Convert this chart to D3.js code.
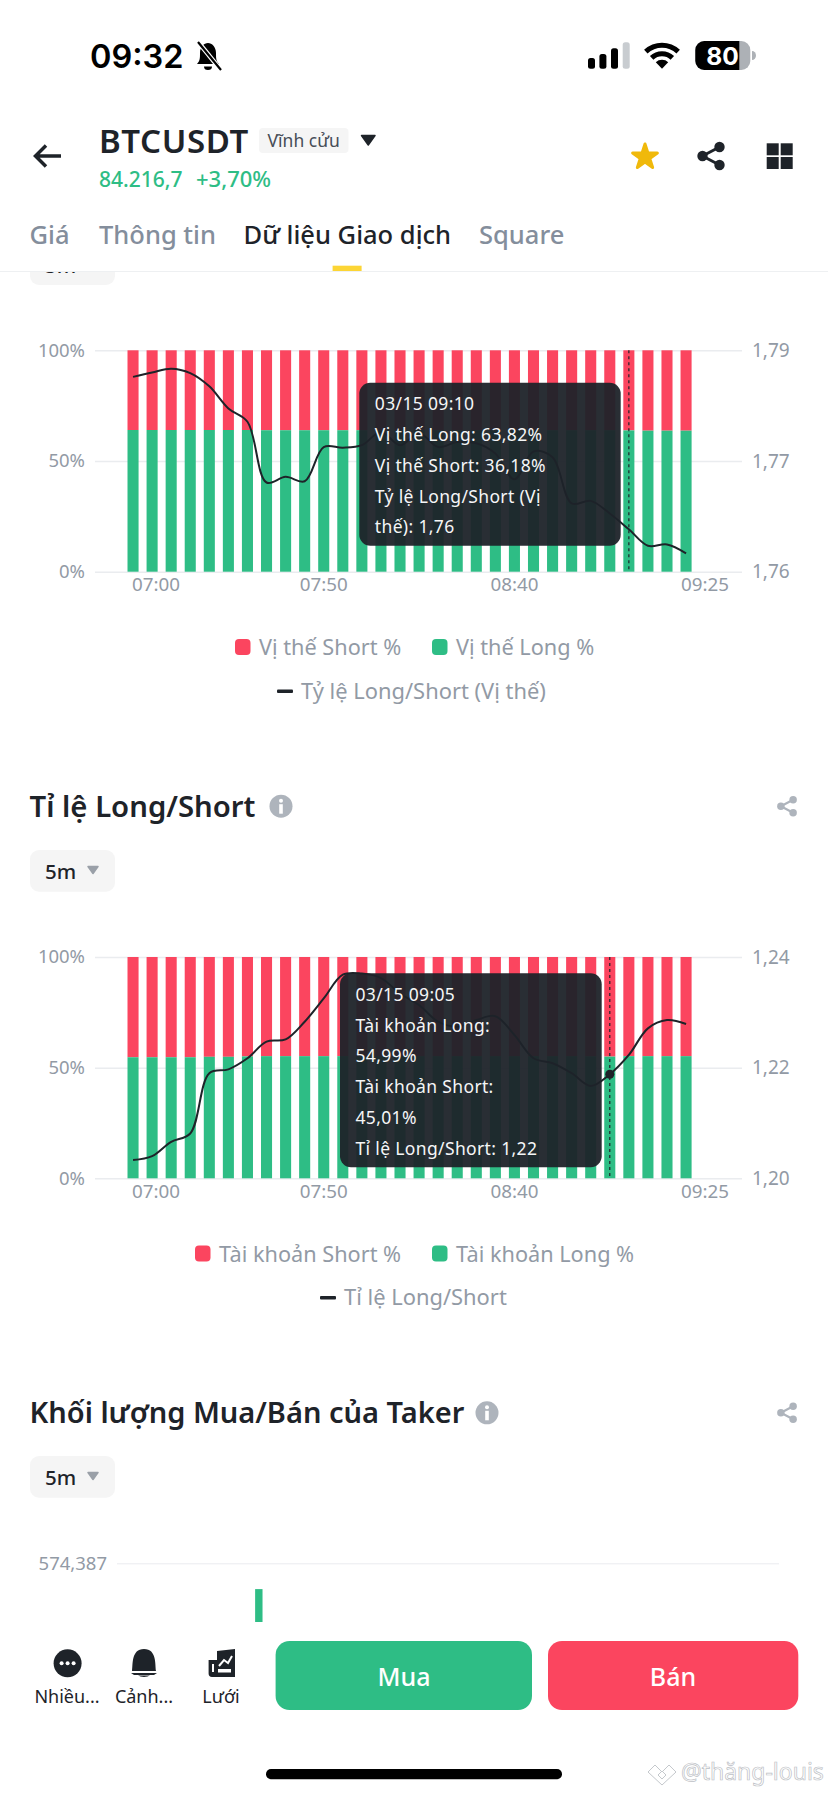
<!DOCTYPE html>
<html lang="vi">
<head>
<meta charset="utf-8">
<title>BTCUSDT</title>
<script src="https://cdn.jsdelivr.net/npm/d3@7"></script>
<style>
  html, body { margin: 0; padding: 0; background: #fff; }
  svg { display: block; }
  text { font-family: "Noto Sans", sans-serif; }
</style>
</head>
<body>
<div id="root"></div>
<script>
// --- data ---
const times = ['07:00','07:05','07:10','07:15','07:20','07:25','07:30','07:35','07:40','07:45',
  '07:50','07:55','08:00','08:05','08:10','08:15','08:20','08:25','08:30','08:35',
  '08:40','08:45','08:50','08:55','09:00','09:05','09:10','09:15','09:20','09:25'];
const timeTicks = ['07:00', '07:50', '08:40', '09:25'];
const pctTicks = [0, 50, 100];

const positionLong = [64.0,64.0,64.0,64.0,64.0,64.0,64.0,63.9,63.9,63.9,
  63.9,63.9,63.9,63.9,63.9,63.9,63.9,63.9,63.9,63.9,
  63.9,63.9,63.9,63.9,63.9,63.9,63.82,63.7,63.7,63.7];
const positionRatio = [1.7858,1.7865,1.7871,1.7864,1.7843,1.7808,1.7787,1.7691,1.7700,1.7693,
  1.7747,1.7746,1.7750,1.7771,1.7750,1.7769,1.7747,1.7755,1.7753,1.7737,
  1.7696,1.7740,1.7731,1.7658,1.7662,1.7642,1.7617,1.7591,1.7593,1.7579];
const positionRatioTicks = [1.755, 1.7725, 1.79];
const positionRatioLabels = ['1,76', '1,77', '1,79'];

const accountLong = [54.7,54.7,54.7,54.7,54.9,54.9,55.1,55.2,55.2,55.2,
  55.2,55.2,55.2,55.2,55.2,55.2,55.2,55.2,55.2,55.2,
  55.2,55.2,55.2,55.2,55.1,54.99,55.2,55.2,55.2,55.2];
const accountRatio = [1.2033,1.2040,1.2066,1.2081,1.2190,1.2197,1.2217,1.2247,1.2251,1.2283,
  1.2325,1.2368,1.2370,1.2362,1.2334,1.2313,1.2283,1.2274,1.2286,1.2293,
  1.2259,1.2217,1.2208,1.2190,1.2167,1.2188,1.2223,1.2271,1.2286,1.2279];
const accountRatioTicks = [1.20, 1.22, 1.24];
const accountRatioLabels = ['1,20', '1,22', '1,24'];

const takerTimes = ['07:35'];
const takerBuy = [509000];
const takerTicks = [574387];

const GREEN = '#2ebd85';
const RED = '#fb455f';
const INK = '#1e2329';
const GREY = '#929aa5';
const TAB_GREY = '#848e9c';
const GRID = '#eaecef';

const W = 828, H = 1795;
const svg = d3.select('#root').append('svg')
  .attr('width', W).attr('height', H).attr('viewBox', `0 0 ${W} ${H}`);

function label(parent, x, y, str, size, fill, opts = {}) {
  return parent.append('text')
    .attr('x', x).attr('y', y)
    .attr('font-size', size)
    .attr('font-weight', opts.weight || 400)
    .attr('fill', fill)
    .attr('text-anchor', opts.anchor || 'start')
    .attr('letter-spacing', opts.spacing || null)
    .text(str);
}

const xBand = d3.scaleBand().domain(times)
  .range([123.5, 123.5 + 30 * 19.07])
  .paddingInner(0.42).paddingOuter(0.21);
const xCenter = (t) => xBand(t) + xBand.bandwidth() / 2;

// stacked bars + ratio line + tooltip
function drawChart(cfg) {
  const { top, bottom } = cfg;
  const g = svg.append('g');
  const yPct = d3.scaleLinear().domain([0, 100]).range([bottom, top]);
  const yRatio = d3.scaleLinear().domain(cfg.ratioDomain).range([bottom, top]);

  g.append('g')
    .attr('transform', 'translate(95,0)')
    .call(d3.axisLeft(yPct).tickValues(pctTicks).tickSize(-647).tickFormat(''))
    .call((a) => a.select('.domain').remove())
    .call((a) => a.selectAll('line').attr('stroke', GRID).attr('stroke-width', 1.5));

  g.selectAll('.short').data(times).enter().append('rect')
    .attr('x', (d) => xBand(d))
    .attr('y', yPct(100))
    .attr('width', xBand.bandwidth())
    .attr('height', (d, i) => yPct(cfg.long[i]) - yPct(100))
    .attr('fill', RED);

  g.selectAll('.long').data(times).enter().append('rect')
    .attr('x', (d) => xBand(d))
    .attr('y', (d, i) => yPct(cfg.long[i]))
    .attr('width', xBand.bandwidth())
    .attr('height', (d, i) => yPct(0) - yPct(cfg.long[i]))
    .attr('fill', GREEN);

  g.append('g')
    .attr('transform', 'translate(95,0)')
    .call(d3.axisLeft(yPct).tickValues(pctTicks).tickSize(0).tickPadding(10).tickFormat((d) => d + '%'))
    .call((a) => a.select('.domain').remove())
    .call((a) => a.selectAll('text').attr('fill', GREY).style('font-size', '18.5px').style('font-family', '"Noto Sans"'));

  g.append('g')
    .attr('transform', 'translate(742,0)')
    .call(d3.axisRight(yRatio).tickValues(cfg.ratioTicks).tickSize(0).tickPadding(10)
      .tickFormat((d, i) => cfg.ratioLabels[i]))
    .call((a) => a.select('.domain').remove())
    .call((a) => a.selectAll('text').attr('fill', GREY).style('font-size', '19px').style('font-family', '"Noto Sans"'));

  g.append('g')
    .attr('transform', `translate(0,${bottom})`)
    .call(d3.axisBottom(xBand).tickValues(timeTicks).tickSize(0).tickPadding(6))
    .call((a) => a.select('.domain').remove())
    .call((a) => a.selectAll('text')
      .attr('fill', GREY).style('font-size', '18.8px').style('font-family', '"Noto Sans"')
      .attr('dx', (d) => (d === '07:00' ? 23 : d === '09:25' ? 19 : 0)));

  const line = d3.line()
    .x((d, i) => xCenter(times[i]))
    .y((d) => yRatio(d))
    .curve(d3.curveCatmullRom.alpha(0.5));
  g.append('path')
    .attr('d', line(cfg.ratio))
    .attr('fill', 'none')
    .attr('stroke', INK)
    .attr('stroke-width', 2);

  const cx = xCenter(cfg.cursor);
  g.append('line')
    .attr('x1', cx).attr('x2', cx).attr('y1', top).attr('y2', bottom)
    .attr('stroke', INK).attr('stroke-width', 1.2).attr('stroke-dasharray', '3,3');
  if (cfg.dot) {
    g.append('circle')
      .attr('cx', cx).attr('cy', yRatio(cfg.ratio[times.indexOf(cfg.cursor)]))
      .attr('r', 4.5).attr('fill', INK);
  }

  // tooltip
  const t = cfg.tip;
  g.append('rect')
    .attr('x', t.x).attr('y', t.y).attr('width', t.w).attr('height', t.h)
    .attr('rx', 11).attr('fill', '#1e2329').attr('opacity', 0.95);
  t.lines.forEach((s, i) => {
    label(g, t.x + 15.5, t.y + t.first + i * t.pitch, s, 17.5, '#f5f6f7', { spacing: 0.35 });
  });

  // legend
  const swatchY = cfg.legendY - 16;
  cfg.legend.forEach((l) => {
    g.append('rect').attr('x', l.x).attr('y', swatchY)
      .attr('width', 15.5).attr('height', 16).attr('rx', 4).attr('fill', l.color);
    label(g, l.x + 24, cfg.legendY, l.text, 21.7, GREY);
  });
  g.append('rect').attr('x', cfg.lineLegendX).attr('y', cfg.legendY + 34.5)
    .attr('width', 16).attr('height', 3.5).attr('rx', 1).attr('fill', INK);
  label(g, cfg.lineLegendX + 24, cfg.legendY + 43.5, cfg.lineLegend, 21.9, GREY);
}

function triangleDown(parent, x, y, w, h, fill) {
  parent.append('path')
    .attr('d', `M${x},${y}L${x + w},${y}L${x + w / 2},${y + h}Z`)
    .attr('fill', fill).attr('stroke', fill)
    .attr('stroke-width', 1.5).attr('stroke-linejoin', 'round');
}

function intervalButton(top) {
  svg.append('rect').attr('x', 30).attr('y', top).attr('width', 85).attr('height', 41.7)
    .attr('rx', 9).attr('fill', '#f5f5f5');
  label(svg, 45, top + 29.3, '5m', 20.5, INK, { weight: 500 });
  triangleDown(svg, 88, top + 16.5, 10, 7, '#9aa0a8');
}

function shareIcon(parent, x, y, color, k) {
  const g = parent.append('g').attr('transform', `translate(${x},${y}) scale(${k})`);
  g.append('path').attr('d', 'M-8.5,0L8.5,-9M-8.5,0L8.5,9').attr('stroke', color)
    .attr('stroke-width', 3).attr('fill', 'none');
  g.append('circle').attr('cx', -8.5).attr('cy', 0).attr('r', 5.2).attr('fill', color);
  g.append('circle').attr('cx', 8.5).attr('cy', -9).attr('r', 5.2).attr('fill', color);
  g.append('circle').attr('cx', 8.5).attr('cy', 9).attr('r', 5.2).attr('fill', color);
}

function sectionTitle(str, baseline, infoX, size) {
  label(svg, 29.5, baseline, str, size, INK, { weight: 600 });
  const iy = baseline - 10.5;
  svg.append('circle').attr('cx', infoX).attr('cy', iy).attr('r', 11.5).attr('fill', '#aeb4bc');
  svg.append('circle').attr('cx', infoX).attr('cy', iy - 5.5).attr('r', 2).attr('fill', '#fff');
  svg.append('rect').attr('x', infoX - 1.8).attr('y', iy - 2).attr('width', 3.6).attr('height', 9.5).attr('fill', '#fff');
  shareIcon(svg, 787, iy, '#aeb4bc', 0.72);
}

// --- charts ---
intervalButton(243.3);

drawChart({
  top: 350.3, bottom: 571.7,
  long: positionLong, ratio: positionRatio,
  ratioDomain: [1.755, 1.79], ratioTicks: positionRatioTicks, ratioLabels: positionRatioLabels,
  cursor: '09:10', dot: false,
  tip: { x: 359.3, y: 382.7, w: 261.4, h: 163, first: 27.5, pitch: 30.8, lines: [
    '03/15 09:10', 'Vị thế Long: 63,82%', 'Vị thế Short: 36,18%', 'Tỷ lệ Long/Short (Vị', 'thế): 1,76'] },
  legendY: 655,
  legend: [
    { x: 235, color: RED, text: 'Vị thế Short %' },
    { x: 432, color: GREEN, text: 'Vị thế Long %' }],
  lineLegendX: 277, lineLegend: 'Tỷ lệ Long/Short (Vị thế)'
});

sectionTitle('Tỉ lệ Long/Short', 816.7, 281, 29.3);
intervalButton(850);

drawChart({
  top: 957, bottom: 1178.3,
  long: accountLong, ratio: accountRatio,
  ratioDomain: [1.20, 1.24], ratioTicks: accountRatioTicks, ratioLabels: accountRatioLabels,
  cursor: '09:05', dot: true,
  tip: { x: 340, y: 973.3, w: 261.7, h: 194, first: 27.4, pitch: 30.8, lines: [
    '03/15 09:05', 'Tài khoản Long:', '54,99%', 'Tài khoản Short:', '45,01%', 'Tỉ lệ Long/Short: 1,22'] },
  legendY: 1261.5,
  legend: [
    { x: 195, color: RED, text: 'Tài khoản Short %' },
    { x: 432, color: GREEN, text: 'Tài khoản Long %' }],
  lineLegendX: 320, lineLegend: 'Tỉ lệ Long/Short'
});

sectionTitle('Khối lượng Mua/Bán của Taker', 1423.3, 487, 29);
intervalButton(1456);

// taker chart, mostly hidden behind the bottom bar
const yTaker = d3.scaleLinear().domain([0, 574387]).range([1790, 1563.3]);
svg.append('g')
  .attr('transform', 'translate(117,0)')
  .call(d3.axisLeft(yTaker).tickValues(takerTicks).tickSize(-662).tickPadding(10).tickFormat(d3.format(',')))
  .call((a) => a.select('.domain').remove())
  .call((a) => a.selectAll('line').attr('stroke', GRID).attr('stroke-width', 1))
  .call((a) => a.selectAll('text').attr('fill', GREY).style('font-size', '18.5px').style('font-family', '"Noto Sans"'));
svg.selectAll('.taker').data(takerTimes).enter().append('rect')
  .attr('x', (d) => xBand(d) + xBand.bandwidth() / 2 - 11.4)
  .attr('y', (d, i) => yTaker(takerBuy[i]))
  .attr('width', 7.4)
  .attr('height', (d, i) => yTaker(0) - yTaker(takerBuy[i]))
  .attr('fill', GREEN);

// --- top bars ---
svg.append('rect').attr('width', W).attr('height', 271).attr('fill', '#fff');
svg.append('rect').attr('y', 271).attr('width', W).attr('height', 1).attr('fill', '#eef0f2');

label(svg, 90, 68, '09:32', 32.5, '#000', { weight: 600 }).style('font-family', 'Inter');

// muted bell
const bell = svg.append('g').attr('transform', 'translate(208,56)');
bell.append('path')
  .attr('d', 'M-11,8C-8,5 -8,2 -8,-3C-8,-9 -4,-13 0,-13C4,-13 8,-9 8,-3C8,2 8,5 11,8Z M-4,10.5A4,3.5 0 0 0 4,10.5Z')
  .attr('fill', '#000');
bell.append('path').attr('d', 'M-9,-13L12,13').attr('stroke', '#fff').attr('stroke-width', 4.5);
bell.append('path').attr('d', 'M-10,-14L13,14').attr('stroke', '#000').attr('stroke-width', 2.2);

// signal
[[588, 58, '#000'], [599.4, 54, '#000'], [611, 48.3, '#000'], [622.7, 42.3, '#c8ccd0']].forEach(([x, y, c]) => {
  svg.append('rect').attr('x', x).attr('y', y).attr('width', 7).attr('height', 68.7 - y).attr('rx', 2.5).attr('fill', c);
});

// wifi
const wifi = svg.append('g').attr('transform', 'translate(662,68.7)');
[[21, 26], [12.5, 17.5], [0, 9]].forEach(([inner, outer]) => {
  wifi.append('path')
    .attr('d', d3.arc().innerRadius(inner).outerRadius(outer).startAngle(-0.76).endAngle(0.76)())
    .attr('fill', '#000');
});

// battery
svg.append('rect').attr('x', 695.3).attr('y', 41).attr('width', 55).attr('height', 29).attr('rx', 9).attr('fill', '#adb1b6');
svg.append('path').attr('d', 'M739.3,41H704.3A9,9 0 0 0 695.3,50V61A9,9 0 0 0 704.3,70H739.3Z').attr('fill', '#000');
svg.append('path').attr('d', 'M752,51A4,4.5 0 0 1 752,60Z').attr('fill', '#adb1b6');
label(svg, 722.5, 64.5, '80', 24.5, '#fff', { weight: 700, anchor: 'middle' }).style('font-family', 'Inter');

// header
svg.append('path')
  .attr('d', 'M61,156H36M46,145.5L35.5,156L46,166.5')
  .attr('fill', 'none').attr('stroke', INK).attr('stroke-width', 3.5);
label(svg, 99, 153, 'BTCUSDT', 33, INK, { weight: 600, spacing: 0.6 });
svg.append('rect').attr('x', 259).attr('y', 128).attr('width', 89.5).attr('height', 25).attr('rx', 4).attr('fill', '#f5f5f5');
label(svg, 303.7, 147, 'Vĩnh cửu', 17.5, '#474d57', { anchor: 'middle' });
triangleDown(svg, 361.5, 135.5, 13.5, 9.5, INK);
label(svg, 99, 187, '84.216,7', 21, GREEN, { weight: 500 });
label(svg, 196, 187, '+3,70%', 22, GREEN, { weight: 500 });

svg.append('path')
  .attr('transform', 'translate(645,157)')
  .attr('d', d3.symbol(d3.symbolStar, 190)())
  .attr('fill', '#f0b90b').attr('stroke', '#f0b90b').attr('stroke-width', 3).attr('stroke-linejoin', 'round');
shareIcon(svg, 711, 156, INK, 1);
[[766.7, 143.3], [780.7, 143.3], [766.7, 157], [780.7, 157]].forEach(([x, y]) => {
  svg.append('rect').attr('x', x).attr('y', y).attr('width', 12).attr('height', 12).attr('fill', INK);
});

// tabs
[['Giá', 29.5, TAB_GREY], ['Thông tin', 99, TAB_GREY], ['Dữ liệu Giao dịch', 243.5, INK], ['Square', 479, TAB_GREY]]
  .forEach(([s, x, c]) => label(svg, x, 244, s, 25.5, c, { weight: 500 }));
svg.append('rect').attr('x', 332.6).attr('y', 265.7).attr('width', 29).attr('height', 5.3).attr('fill', '#fcd535');

// --- bottom bar ---
svg.append('rect').attr('y', 1622).attr('width', W).attr('height', H - 1622).attr('fill', '#fff');
svg.append('circle').attr('cx', 67.6).attr('cy', 1663.3).attr('r', 14).attr('fill', INK);
[-6, 0, 6].forEach((d) => {
  svg.append('circle').attr('cx', 67.6 + d).attr('cy', 1663.3).attr('r', 2).attr('fill', '#fff');
});
svg.append('path')
  .attr('d', 'M132,1671C133,1665 131,1649 144,1649C157,1649 155,1665 156,1671Z M131,1673H157L154,1675H134Z M138,1675.5A7,3 0 0 0 150,1675.5Z')
  .attr('fill', INK);
svg.append('path')
  .attr('d', 'M217,1651L235,1649V1677H212A3.5,3.5 0 0 1 208.6,1673.5V1660H217Z')
  .attr('fill', INK);
svg.append('path').attr('d', 'M213,1664V1672M219,1666L224,1660L228,1663L232,1656').attr('stroke', '#fff').attr('stroke-width', 2).attr('fill', 'none');
svg.append('rect').attr('x', 218).attr('y', 1669).attr('width', 13).attr('height', 3.5).attr('fill', '#fff');
[['Nhiều...', 67], ['Cảnh...', 144], ['Lưới', 221]].forEach(([s, x]) => {
  label(svg, x, 1702.7, s, 18, INK, { anchor: 'middle' });
});
svg.append('rect').attr('x', 275.6).attr('y', 1641).attr('width', 256.4).attr('height', 69).attr('rx', 14).attr('fill', GREEN);
svg.append('rect').attr('x', 548).attr('y', 1641).attr('width', 250.3).attr('height', 69).attr('rx', 14).attr('fill', RED);
label(svg, 404, 1685.7, 'Mua', 25, '#fff', { weight: 500, anchor: 'middle' });
label(svg, 673, 1685.7, 'Bán', 25, '#fff', { weight: 500, anchor: 'middle' });
svg.append('rect').attr('x', 266).attr('y', 1769).attr('width', 296).attr('height', 10.3).attr('rx', 5).attr('fill', '#000');

// watermark
svg.append('path')
  .attr('d', 'M648,1772L662,1785L676,1772L669,1765L662,1772L655,1765Z M658,1775L662,1771L666,1775L662,1779Z')
  .attr('fill', 'none').attr('stroke', '#c4c8cc').attr('stroke-width', 1);
label(svg, 681, 1780, '@thăng-louis', 23, '#fff').attr('stroke', '#bcc0c5').attr('stroke-width', 0.7);
</script>
</body>
</html>
